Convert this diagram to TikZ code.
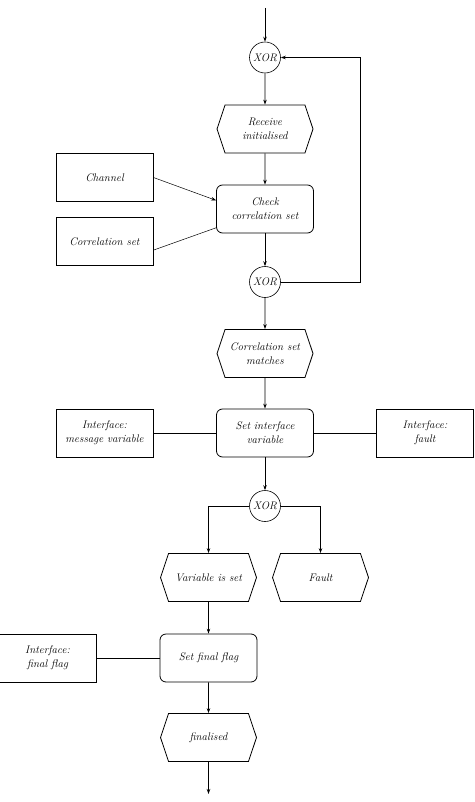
\documentclass[tikz,border=0pt]{standalone}
\usetikzlibrary{arrows.meta,shapes.symbols}
\tikzset{
  func/.style={draw,rounded corners=6pt,minimum width=97pt,minimum height=48pt,align=center,line width=0.8pt},
  event/.style={draw,signal,signal to=east and west,signal pointer angle=143,minimum width=96pt,minimum height=48pt,align=center,line width=0.8pt},
  xorgate/.style={draw,circle,minimum size=31pt,inner sep=0pt,line width=0.6pt},
  infobox/.style={draw,rectangle,minimum width=97pt,minimum height=48pt,align=center,line width=0.9pt},
  flow/.style={-{Stealth[length=5pt,width=3.5pt]},line width=0.8pt},
  assoc/.style={line width=0.5pt}
}
\begin{document}
\begin{tikzpicture}[x=1pt,y=-1pt,font=\fontsize{11}{14}\selectfont\itshape]
            \useasboundingbox (0,0) rectangle (474,802);
            % main chain
            \coordinate (inTop) at (265,8);
            \node[xorgate] (xorTop) at (265,57.5) {XOR};
            \node[event] (recvInit) at (265,129) {Receive\\initialised};
            \node[func] (checkCorr) at (265,209) {Check\\correlation set};
            \node[xorgate] (xorLoop) at (265,282) {XOR};
            \coordinate (loopR) at (360.5,282);
            \node[event] (corrMatch) at (265,353.5) {Correlation set\\matches};
            \node[func] (setIface) at (265,433) {Set interface\\variable};
            \node[xorgate] (xorFault) at (265,506) {XOR};
            \node[event] (varSet) at (208.5,577.5) {Variable is set};
            \node[event] (fault) at (320.5,577.5) {Fault};
            \node[func] (setFinal) at (208.5,658) {Set final flag};
            \node[event] (finalised) at (208.5,737.5) {finalised};
            \coordinate (outBot) at (208.5,794);
            % data objects
            \node[infobox] (channel) at (104.5,177.5) {Channel};
            \node[infobox] (corrSet) at (104.5,241.5) {Correlation set};
            \node[infobox] (ifaceMsg) at (104.5,433) {Interface:\\message variable};
            \node[infobox] (ifaceFault) at (425,433) {Interface:\\fault};
            \node[infobox] (ifaceFlag) at (47.5,658) {Interface:\\final flag};
            % control flow
            \draw[flow] (inTop) -- (xorTop);
            \draw[flow] (xorTop) -- (recvInit);
            \draw[flow] (recvInit) -- (checkCorr);
            \draw[flow] (checkCorr) -- (xorLoop);
            \draw[flow] (xorLoop) -- (loopR) |- (xorTop);
            \draw[flow] (xorLoop) -- (corrMatch);
            \draw[flow] (corrMatch) -- (setIface);
            \draw[flow] (setIface) -- (xorFault);
            \draw[flow] (xorFault) -| (varSet);
            \draw[flow] (xorFault) -| (fault);
            \draw[flow] (varSet) -- (setFinal);
            \draw[flow] (setFinal) -- (finalised);
            \draw[flow] (finalised) -- (outBot);
            % associations
            \draw[flow,line width=0.5pt] (channel.east) -- (checkCorr.170);
            \draw[assoc] (corrSet.-10) -- (checkCorr.201);
            \draw[line width=0.8pt] (ifaceMsg) -- (setIface);
            \draw[line width=0.8pt] (setIface) -- (ifaceFault);
            \draw[line width=0.8pt] (ifaceFlag) -- (setFinal);
        \end{tikzpicture}
\end{document}
